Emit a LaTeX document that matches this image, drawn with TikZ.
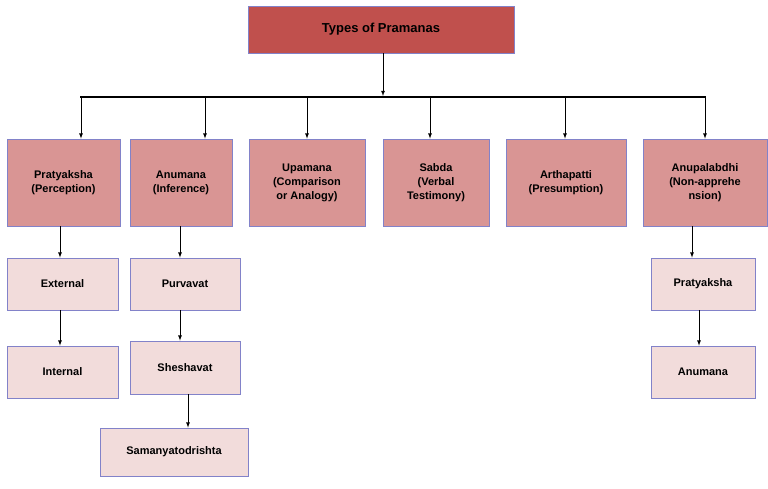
\documentclass[tikz,border=0pt]{standalone}
\usepackage{fontspec}
\setmainfont{Liberation Sans}
\begin{document}
\begin{tikzpicture}[x=1pt,y=-1pt,
 box/.style={draw=blue!40!gray!70, line width=0.8pt, align=center, font=\bfseries\fontsize{11}{14}\selectfont, inner sep=0pt},
 l1/.style={box, fill={rgb,255:red,217;green,149;blue,148}},
 l2/.style={box, fill={rgb,255:red,242;green,220;blue,219}},
 arr/.style={-latex, line width=0.8pt}]
\useasboundingbox (0,0) rectangle (768,488);
\newcommand{\bx}[6]{\node[#1, minimum width=#4-#3, minimum height=#6-#5] (#2) at ({(#3+#4)/2},{(#5+#6)/2})}
\bx{box, fill={rgb,255:red,192;green,80;blue,77}, font=\bfseries\fontsize{13}{16}\selectfont}{top}{248}{514}{6}{53} {Types of Pramanas};
\bx{l1}{p}{7}{120}{139}{226} {Pratyaksha\\(Perception)};
\bx{l1}{a}{130}{232}{139}{226} {Anumana\\(Inference)};
\bx{l1}{u}{249}{365}{139}{226} {Upamana\\(Comparison\\or Analogy)};
\bx{l1}{s}{383}{489}{139}{226} {Sabda\\(Verbal\\Testimony)};
\bx{l1}{ar}{506}{626}{139}{226} {Arthapatti\\(Presumption)};
\bx{l1}{an}{643}{767}{139}{226} {Anupalabdhi\\(Non-apprehe\\nsion)};
\bx{l2}{ext}{7}{118}{258}{310} {External};
\bx{l2}{int}{7}{118}{346}{398} {Internal};
\bx{l2}{pur}{130}{240}{258}{310} {Purvavat};
\bx{l2}{she}{130}{240}{341}{394} {Sheshavat};
\bx{l2}{sam}{100}{248}{428}{476} {Samanyatodrishta};
\bx{l2}{pr2}{651}{755}{258}{310} {Pratyaksha};
\bx{l2}{an2}{651}{755}{346}{398} {Anumana};
\coordinate (bl) at (80,97); \coordinate (br) at (706,97);
\draw[line width=2.2pt] (bl) -- (br);
\draw[arr] (top.south -| 383,0) -- (383,96);
\foreach \n/\x in {p/81,a/205,u/307,s/430,ar/565,an/705}
  \draw[arr] (\x,97) -- (\n.north -| \x,0);
\draw[arr] (p.south -| 60,0) -- (ext.north -| 60,0);
\draw[arr] (ext.south -| 60,0) -- (int.north -| 60,0);
\draw[arr] (a.south -| 180,0) -- (pur.north -| 180,0);
\draw[arr] (pur.south -| 180,0) -- (she.north -| 180,0);
\draw[arr] (she.south -| 188,0) -- (sam.north -| 188,0);
\draw[arr] (an.south -| 692,0) -- (pr2.north -| 692,0);
\draw[arr] (pr2.south -| 699,0) -- (an2.north -| 699,0);
\end{tikzpicture}
\end{document}
